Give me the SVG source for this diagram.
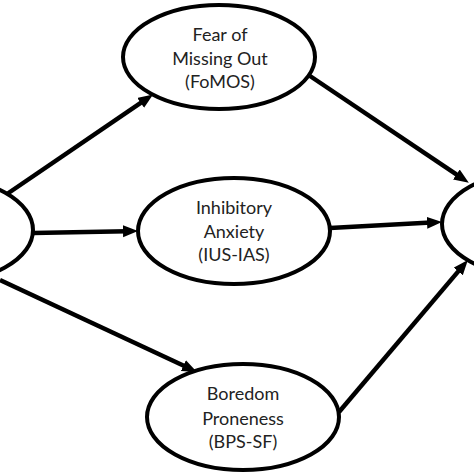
<svg xmlns="http://www.w3.org/2000/svg" width="474" height="474" viewBox="0 0 474 474">
  <style>
    .node ellipse { fill: #ffffff; stroke: #000000; stroke-width: 4; }
    .node text { font-family: "Lato", "Open Sans", "Liberation Sans", sans-serif; font-size: 18px; fill: #222222; text-anchor: middle; }
    .edge { stroke: #000000; stroke-width: 4.5; fill: none; }
  </style>
  <defs>
    <marker id="arrow" markerUnits="userSpaceOnUse" markerWidth="16" markerHeight="13" refX="4" refY="6" orient="auto">
      <path d="M0,0 L15,6 L0,12 z" fill="#000000"/>
    </marker>
  </defs>
  <rect width="474" height="474" fill="#ffffff"/>
  <g id="connectors">
    <line class="edge" x1="7" y1="194" x2="144" y2="100.6" marker-end="url(#arrow)"/>
    <line class="edge" x1="310" y1="76" x2="459.7" y2="176.7" marker-end="url(#arrow)"/>
    <line class="edge" x1="33" y1="233" x2="127" y2="231.2" marker-end="url(#arrow)"/>
    <line class="edge" x1="330" y1="228" x2="431" y2="222.6" marker-end="url(#arrow)"/>
    <line class="edge" x1="0" y1="280" x2="187" y2="367.3" marker-end="url(#arrow)"/>
    <line class="edge" x1="339" y1="412" x2="460.8" y2="268.4" marker-end="url(#arrow)"/>
  </g>
  <g id="node-left" class="node">
    <ellipse cx="-63" cy="230" rx="96" ry="53"/>
  </g>
  <g id="node-right" class="node">
    <ellipse cx="538" cy="224" rx="96" ry="53"/>
  </g>
  <g id="node-fomos" class="node">
    <ellipse cx="219" cy="57" rx="96" ry="52"/>
    <text x="220" y="41">Fear of</text>
    <text x="220" y="65">Missing Out</text>
    <text x="220" y="88">(FoMOS)</text>
  </g>
  <g id="node-ius" class="node">
    <ellipse cx="234" cy="231" rx="96" ry="53"/>
    <text x="234" y="214">Inhibitory</text>
    <text x="234" y="238">Anxiety</text>
    <text x="234" y="261">(IUS-IAS)</text>
  </g>
  <g id="node-bps" class="node">
    <ellipse cx="243" cy="417" rx="96" ry="53"/>
    <text x="243" y="400">Boredom</text>
    <text x="243" y="425">Proneness</text>
    <text x="243" y="448">(BPS-SF)</text>
  </g>
</svg>
